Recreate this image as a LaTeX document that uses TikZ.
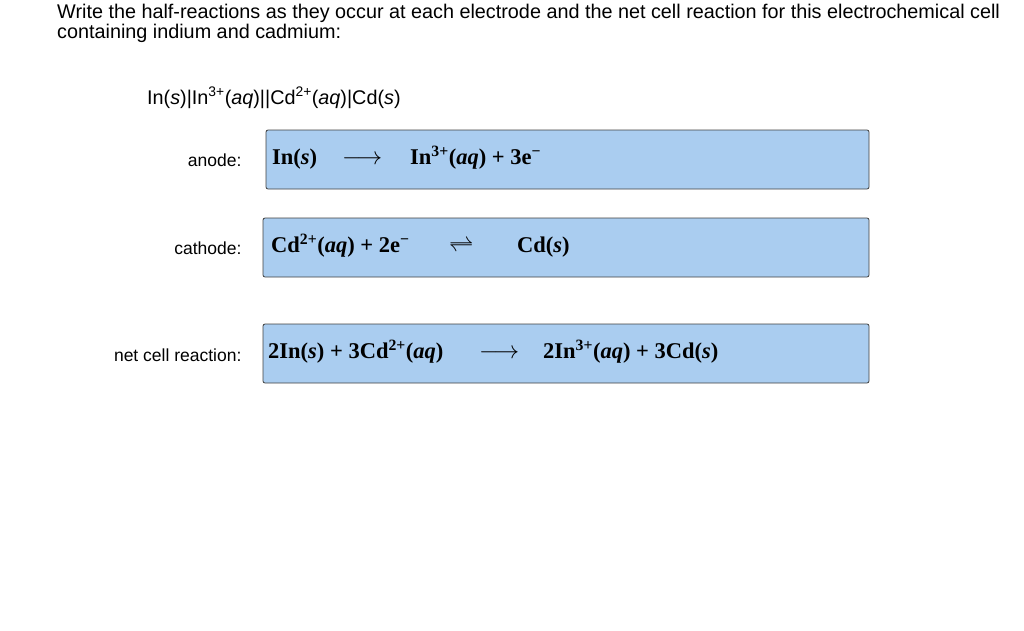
\documentclass[tikz,border=0pt]{standalone}
\usepackage{fontspec}
\setmainfont{Liberation Sans}
\newfontfamily\eqf{Liberation Serif}
\begin{document}
\begin{tikzpicture}[x=1pt,y=-1pt,
  ans/.style={draw=black!75,fill={rgb,255:red,170;green,205;blue,240},rounded corners=2pt,line width=0.8pt},
  lab/.style={anchor=base east,font=\fontsize{17.5}{20}\selectfont},
  eq/.style={anchor=base west,inner sep=0,font=\eqf\bfseries\fontsize{22.5}{24}\selectfont},
  arr/.style={anchor=base west,inner sep=0,font=\fontsize{24}{26}\selectfont}]
\useasboundingbox (0,0) rectangle (1024,630);
\node[anchor=base west,inner sep=0,align=left,font=\fontsize{19.8}{20}\selectfont] (q) at (57,38) {Write the half-reactions as they occur at each electrode and the net cell reaction for this electrochemical cell\\containing indium and cadmium:};
\node[anchor=base west,inner sep=0,font=\fontsize{19.8}{22}\selectfont] (cell) at (147,104) {In(\textit{s})|In\textsuperscript{3+}(\textit{aq})||Cd\textsuperscript{2+}(\textit{aq})|Cd(\textit{s})};
\draw[ans] (266,130) rectangle (869,189);
\draw[ans] (263,218) rectangle (869,277);
\draw[ans] (263,324) rectangle (869,383);
\node[lab] (la) at (245,166) {anode:};
\node[lab] (lc) at (245,254) {cathode:};
\node[lab] (ln) at (245,361) {net cell reaction:};
\node[eq] (a1) at (272,164) {In(\textit{s})};
\node[arr] (a2) at (342,164) {$\longrightarrow$};
\node[eq] (a3) at (410,164) {In\textsuperscript{3+}(\textit{aq}) + 3e\textsuperscript{−}};
\node[eq] (c1) at (271,252) {Cd\textsuperscript{2+}(\textit{aq}) + 2e\textsuperscript{−}};
\node[arr] (c2) at (449,252) {$\rightleftharpoons$};
\node[eq] (c3) at (517,252) {Cd(\textit{s})};
\node[eq] (n1) at (268,358) {2In(\textit{s}) + 3Cd\textsuperscript{2+}(\textit{aq})};
\node[arr] (n2) at (479,358) {$\longrightarrow$};
\node[eq] (n3) at (543,358) {2In\textsuperscript{3+}(\textit{aq}) + 3Cd(\textit{s})};
\end{tikzpicture}
\end{document}
